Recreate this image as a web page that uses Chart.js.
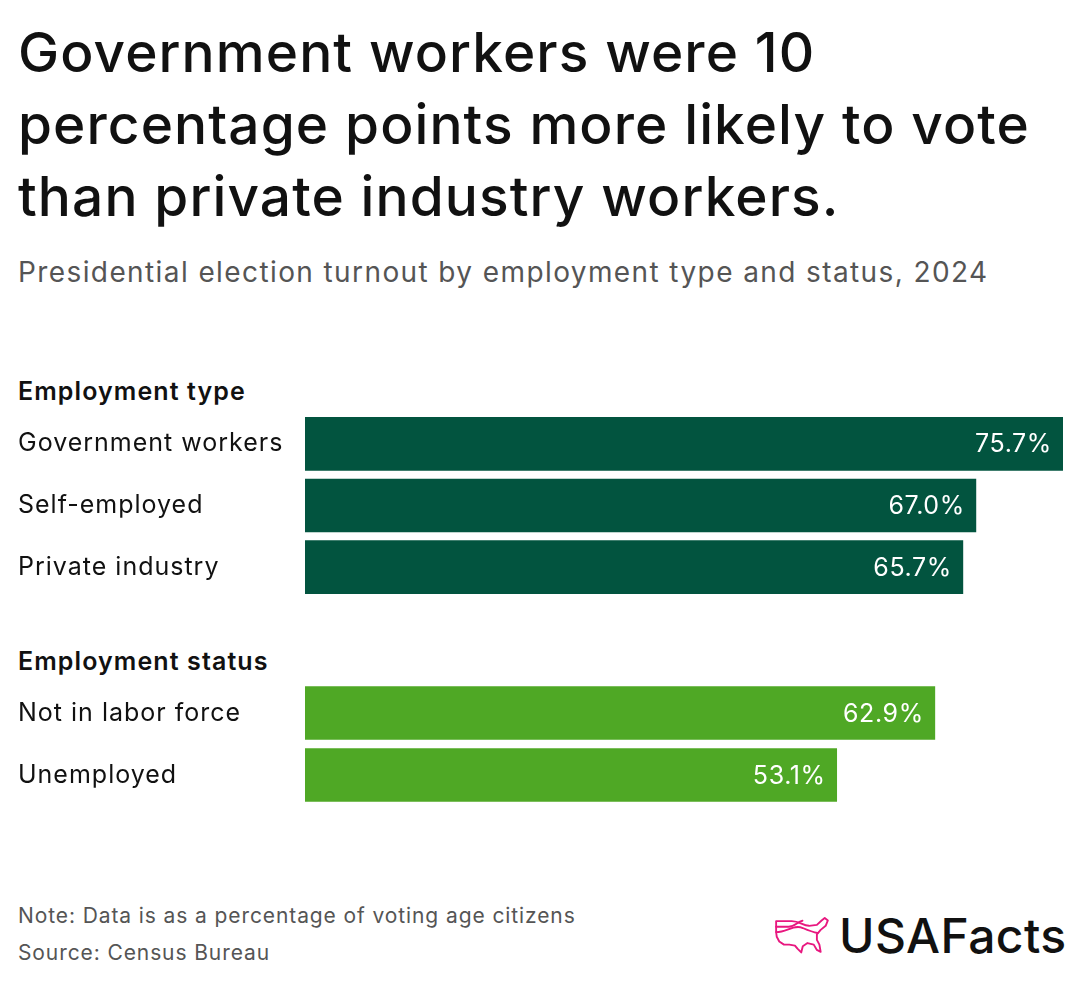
<!DOCTYPE html>
<html>
<head>
<meta charset="utf-8">
<script src="https://cdn.jsdelivr.net/npm/chart.js@4/dist/chart.umd.min.js"></script>
<style>
  body { margin: 0; background: #fff; font-family: Inter, "Noto Sans", sans-serif; color: #111; }
  #page { position: relative; width: 1080px; height: 986px; overflow: hidden; }
  .abs { position: absolute; white-space: nowrap; }
  #title { left: 18px; top: 16px; font-size: 55px; font-weight: 500; line-height: 72px; letter-spacing: 1.1px; }
  #subtitle { left: 18px; top: 255px; font-size: 28px; color: #555; letter-spacing: 1.4px; }
  .head { left: 18px; font-size: 25px; font-weight: 600; letter-spacing: 1.1px; }
  .note { left: 18px; font-size: 21px; color: #555; letter-spacing: 0.9px; }
  #logo { left: 773px; top: 906px; display: flex; align-items: center; }
  #logo span { font-size: 48px; font-weight: 500; letter-spacing: 0.4px; margin-left: 8px; }
  canvas { position: absolute; left: 0; }
</style>
</head>
<body>
<div id="page">
  <div id="title" class="abs">Government workers were 10<br>percentage points more likely to vote<br>than private industry workers.</div>
  <div id="subtitle" class="abs">Presidential election turnout by employment type and status, 2024</div>

  <div class="abs head" style="top:376px">Employment type</div>
  <canvas id="typeChart" width="1080" height="185" style="top:413px"></canvas>

  <div class="abs head" style="top:646px">Employment status</div>
  <canvas id="statusChart" width="1080" height="124" style="top:682px"></canvas>

  <div class="abs note" style="top:903px">Note: Data is as a percentage of voting age citizens</div>
  <div class="abs note" style="top:940px">Source: Census Bureau</div>

  <div id="logo" class="abs">
    <svg width="58" height="44" viewBox="10 15 185 125">
      <g fill="none" stroke="#e8177f" stroke-width="6" stroke-linejoin="round" stroke-linecap="round">
        <path d="M20,30 L70,30 C95,30 105,45 125,45 L150,42 L165,28 L175,20 L185,28 L178,45 L162,58 L150,72 L150,90 L158,105 L162,128 L150,122 L140,105 L120,100 L105,110 L100,130 L88,118 L80,108 L62,105 L45,105 L30,95 L22,80 L20,65 Z"/>
        <path d="M20,48 L60,48 C80,48 88,32 104,29"/>
        <path d="M20,65 C55,65 75,40 105,52 C128,62 140,66 152,68"/>
      </g>
    </svg>
    <span>USAFacts</span>
  </div>
</div>

<script>
// employment type
const typeLabels = ['Government workers', 'Self-employed', 'Private industry']
const typeValues = [75.7, 67.0, 65.7]

// employment status
const statusLabels = ['Not in labor force', 'Unemployed']
const statusValues = [62.9, 53.1]

const darkGreen = '#02543f'
const lightGreen = '#4fa825'

// wider letters, the original font runs wider than Inter
const spacing = {
    id: 'spacing',
    beforeDraw(chart) {
        chart.ctx.letterSpacing = '1px'
    }
}

// draws the value inside the end of each bar
const barValues = {
    id: 'barValues',
    afterDatasetsDraw(chart) {
        const ctx = chart.ctx
        ctx.save()
        ctx.letterSpacing = '0.6px'
        ctx.font = '400 25px Inter, "Noto Sans", sans-serif'
        ctx.fillStyle = '#fff'
        ctx.textAlign = 'right'
        ctx.textBaseline = 'middle'
        chart.getDatasetMeta(0).data.forEach((bar, i) => {
            const value = chart.data.datasets[0].data[i]
            ctx.fillText(value.toFixed(1) + '%', bar.x - 11, bar.y + 1)
        })
        ctx.restore()
    }
}

const makeChart = (id, labels, values, color) => {
    return new Chart(document.getElementById(id), {
        type: 'bar',
        data: {
            labels: labels,
            datasets: [{
                data: values,
                backgroundColor: color,
                borderWidth: 0,
                barThickness: 53,
                categoryPercentage: 1
            }]
        },
        options: {
            indexAxis: 'y',
            responsive: false,
            animation: false,
            layout: { padding: { left: 18, right: 17, top: 0, bottom: 0 } },
            scales: {
                x: { min: 0, max: 75.7, display: false },
                y: {
                    grid: { display: false },
                    border: { display: false },
                    afterFit: (scale) => {
                        scale.width = 287
                        scale.paddingTop = 0
                        scale.paddingBottom = 0
                    },
                    ticks: {
                        crossAlign: 'far',
                        padding: 0,
                        color: '#111',
                        font: { family: 'Inter, "Noto Sans", sans-serif', size: 25, weight: 400 }
                    }
                }
            },
            plugins: {
                legend: { display: false },
                tooltip: { enabled: false }
            }
        },
        plugins: [spacing, barValues]
    })
}

makeChart('typeChart', typeLabels, typeValues, darkGreen)
makeChart('statusChart', statusLabels, statusValues, lightGreen)
</script>
</body>
</html>
